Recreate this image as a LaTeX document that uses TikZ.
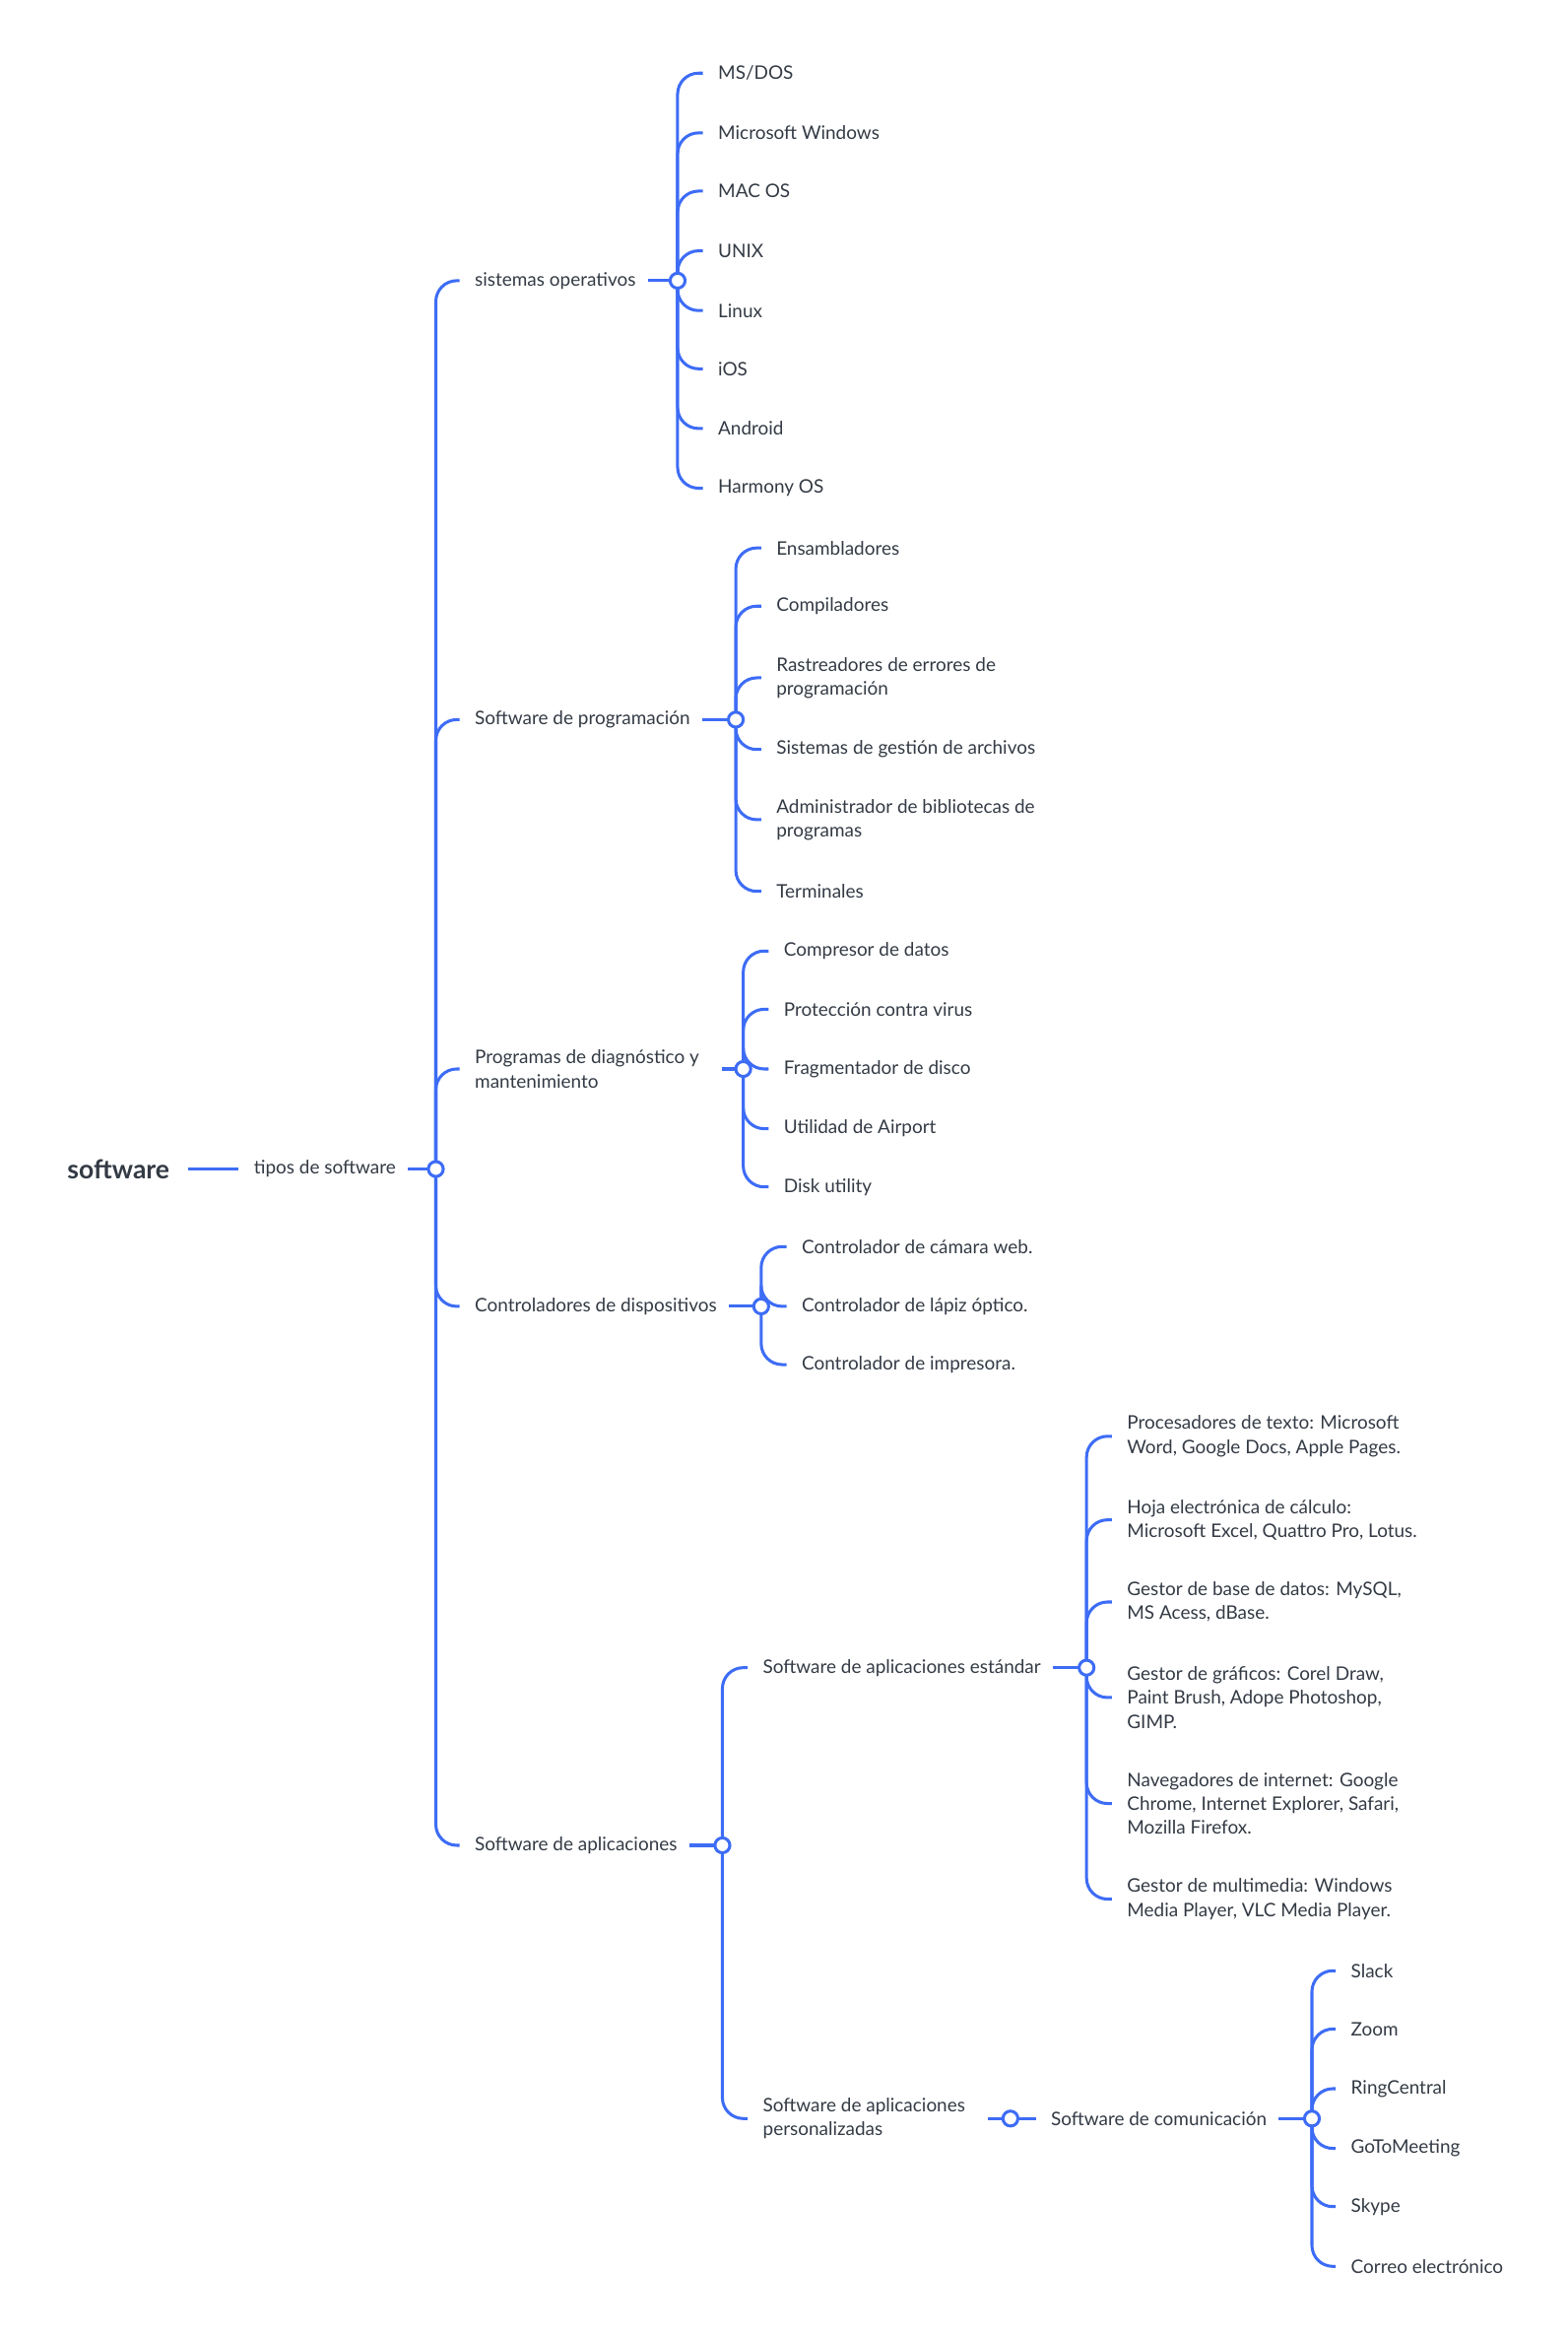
\documentclass[tikz,border=0pt]{standalone}
\usepackage{fontspec}
\setmainfont{Lato}
\definecolor{bl}{HTML}{3D6CF5}
\definecolor{tx}{HTML}{333A44}
\begin{document}
\begin{tikzpicture}[x=1pt,y=-1pt,
 t/.style={anchor=west,inner sep=0pt,align=left,text=tx,font=\fontsize{12.5}{16}\selectfont},
 hub/.style={circle,draw=bl,fill=white,line width=2pt,minimum size=10pt,inner sep=0pt},
 br/.style={draw=bl,line width=2pt,rounded corners=14pt,shorten >=10pt},
 ln/.style={draw=bl,line width=2pt}]
\useasboundingbox (0,0) rectangle (1050,1564);
\node[t,font=\fontsize{17.5}{19}\selectfont\bfseries] (root) at (45,783) {software};
\node[t] (tipos) at (170,783) {tipos de software};
\coordinate (h0) at (292,783);
\node[t] (so) at (318,188) {sistemas operativos};
\node[t] (sp) at (318,482) {Software de programación};
\node[t] (pd) at (318,716) {Programas de diagnóstico y\\mantenimiento};
\node[t] (cd) at (318,875) {Controladores de dispositivos};
\node[t] (sa) at (318,1236) {Software de aplicaciones};
\coordinate (h1) at (454,188);
\coordinate (h2) at (493,482);
\coordinate (h3) at (498,716);
\coordinate (h4) at (510,875);
\coordinate (h5) at (484,1236);
\coordinate (h6) at (728,1117);
\coordinate (h7) at (677,1419);
\coordinate (h8) at (879,1419);
\foreach \n/\y/\s in {a1/49/MS\slash DOS,a2/89/Microsoft Windows,a3/128/MAC OS,a4/168/UNIX,a5/208/Linux,a6/247/iOS,a7/287/Android,a8/327/Harmony OS}
 {\node[t] (\n) at (481,\y) {\s}; \draw[br] (h1) |- (\n.west);}
\foreach \n/\y/\s in {b1/367/Ensambladores,b2/406/Compiladores,b3/454/Rastreadores de errores de\\programación,b4/502/Sistemas de gestión de archivos,b5/549/Administrador de bibliotecas de\\programas,b6/597/Terminales}
 {\node[t] (\n) at (520,\y) {\s}; \draw[br] (h2) |- (\n.west);}
\foreach \n/\y/\s in {c1/637/Compresor de datos,c2/676/Protección contra virus,c3/716/Fragmentador de disco,c4/756/Utilidad de Airport,c5/795/Disk utility}
 {\node[t] (\n) at (525,\y) {\s}; \draw[br] (h3) |- (\n.west);}
\foreach \n/\y/\s in {d1/835/Controlador de cámara web.,d2/875/Controlador de lápiz óptico.,d3/914/Controlador de impresora.}
 {\node[t] (\n) at (537,\y) {\s}; \draw[br] (h4) |- (\n.west);}
\node[t] (e1) at (511,1117) {Software de aplicaciones estándar};
\node[t] (e2) at (511,1419) {Software de aplicaciones\\personalizadas};
\draw[br] (h5) |- (e1.west); \draw[br] (h5) |- (e2.west);
\foreach \n/\y/\s in {f1/962/{Procesadores de texto: Microsoft\\Word, Google Docs, Apple Pages.},f2/1018/{Hoja electrónica de cálculo:\\Microsoft Excel, Quattro Pro, Lotus.},f3/1073/{Gestor de base de datos: MySQL,\\MS Acess, dBase.},f4/1137/{Gestor de gráficos: Corel Draw,\\Paint Brush, Adope Photoshop,\\GIMP.},f5/1208/{Navegadores de internet: Google\\Chrome, Internet Explorer, Safari,\\Mozilla Firefox.},f6/1272/{Gestor de multimedia: Windows\\Media Player, VLC Media Player.}}
 {\node[t] (\n) at (755,\y) {\s}; \draw[br] (h6) |- (\n.west);}
\node[t] (com) at (704,1419) {Software de comunicación};
\foreach \n/\y/\s in {g1/1320/Slack,g2/1359/Zoom,g3/1399/RingCentral,g4/1439/GoToMeeting,g5/1478/Skype,g6/1518/Correo electrónico}
 {\node[t] (\n) at (905,\y) {\s}; \draw[br] (h8) |- (\n.west);}
\foreach \n in {so,sp,pd,cd,sa} {\draw[br] (h0) |- (\n.west);}
\draw[ln] ([xshift=12pt]root.east) -- ([xshift=-10pt]tipos.west);
\draw[ln] ([xshift=8pt]tipos.east) -- (h0);
\draw[ln] ([xshift=8pt]so.east) -- (h1);
\draw[ln] ([xshift=8pt]sp.east) -- (h2);
\draw[ln] (484,716) -- (h3);
\draw[ln] ([xshift=8pt]cd.east) -- (h4);
\draw[ln] ([xshift=8pt]sa.east) -- (h5);
\draw[ln] ([xshift=8pt]e1.east) -- (h6);
\draw[ln] (662,1419) -- (h7) -- ([xshift=-10pt]com.west);
\draw[ln] ([xshift=8pt]com.east) -- (h8);
\foreach \h in {h0,h1,h2,h3,h4,h5,h6,h7,h8} {\node[hub] at (\h) {};}
\end{tikzpicture}
\end{document}
